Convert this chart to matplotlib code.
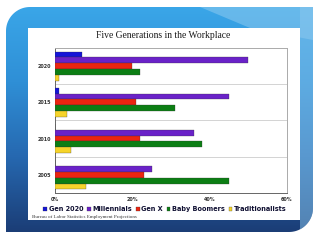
import matplotlib
matplotlib.use("Agg")
import matplotlib.pyplot as plt
import numpy as np
from matplotlib.patches import Polygon, Rectangle
from matplotlib.colors import LinearSegmentedColormap

years = ["2005", "2010", "2015", "2020"]
series = ["Gen 2020", "Millennials", "Gen X", "Baby Boomers", "Traditionalists"]
values = {
    "Gen 2020":        [0, 0, 1, 7],
    "Millennials":     [25, 36, 45, 50],
    "Gen X":           [23, 22, 21, 20],
    "Baby Boomers":    [45, 38, 31, 22],
    "Traditionalists": [8, 4, 3, 1],
}
colors = ["#1515d8", "#6a22c8", "#ec2410", "#0c7e14", "#f6d42a"]
xticks = [0, 20, 40, 60]
xticklabels = ["0%", "20%", "40%", "60%"]

fig = plt.figure(figsize=(3.2, 2.4), dpi=100)
fig.patch.set_facecolor("white")

# background frame (rounded top-left and bottom-right corners)
bg = fig.add_axes([0, 0, 1, 1])
bg.set_xlim(0, 320)
bg.set_ylim(240, 0)
bg.axis("off")
x0, x1, y0, y1, r = 6, 313, 7, 232, 24
t = np.linspace(0, np.pi / 2, 20)
pts = []
pts += list(zip(x0 + r - r * np.cos(t), y0 + r - r * np.sin(t)))
pts += [(x1, y0)]
pts += list(zip(x1 - r + r * np.cos(t), y1 - r + r * np.sin(t)))
pts += [(x0, y1)]
frame = Polygon(pts, closed=True, facecolor="none", edgecolor="none")
bg.add_patch(frame)
cmap = LinearSegmentedColormap.from_list("fr", ["#3aa6e8", "#2f8fd6", "#2668b0", "#1b3d76"])
grad = np.linspace(0, 1, 256).reshape(-1, 1)
im = bg.imshow(grad, extent=[x0, x1, y1, y0], cmap=cmap, aspect="auto", zorder=1)
im.set_clip_path(frame)
# lighter diagonal streak at top right
streak = Polygon([(200, 7), (313, 7), (313, 40), (250, 28)], closed=True,
                 facecolor="#9fd2f2", alpha=0.45, edgecolor="none", zorder=2)
bg.add_patch(streak)
streak.set_clip_path(frame)
rs = Rectangle((300, 7), 13, 225, facecolor="#8cc8ee", alpha=0.5, edgecolor="none", zorder=2)
bg.add_patch(rs)
rs.set_clip_path(frame)
bg.add_patch(Rectangle((28, 28), 272, 192, facecolor="white", edgecolor="none", zorder=3))
bg.text(163, 35, "Five Generations in the Workplace", ha="center", va="center",
        fontsize=6.9, family="Liberation Serif", color="#1a1a1a", zorder=4)
bg.text(32, 217, "Bureau of Labor Statistics Employment Projections", ha="left", va="center",
        fontsize=3.6, family="Liberation Serif", color="#333333", zorder=4)

ax = fig.add_axes([0.172, 0.196, 0.725, 0.604])
ax.set_zorder(5)
y = np.arange(len(years))
h = 0.16
for i, s in enumerate(series):
    off = (2 - i) * h
    ax.barh(y + off, values[s], height=h, color=colors[i], edgecolor="#333333",
            linewidth=0.2, label=s, zorder=3)
ax.set_xlim(0, 60)
ax.set_ylim(-0.5, 3.5)
ax.set_yticks(y)
ax.set_yticklabels(years, fontsize=3.5, fontweight="bold", color="#333333")
ax.set_xticks(xticks)
ax.set_xticklabels(xticklabels, fontsize=3.5, fontweight="bold", color="#333333")
ax.tick_params(length=0, pad=3)
for yy in [0.5, 1.5, 2.5]:
    ax.axhline(yy, color="#cccccc", linewidth=0.6, zorder=1)
for sp in ax.spines.values():
    sp.set_color("#aaaaaa")
    sp.set_linewidth(0.7)
ax.spines["left"].set_color("#666666")
ax.spines["bottom"].set_color("#666666")

leg = fig.legend(*ax.get_legend_handles_labels(), loc="center", bbox_to_anchor=(165/320, 1 - 209/240),
                 ncol=5, frameon=False, handlelength=0.55, handleheight=0.55,
                 handletextpad=0.25, columnspacing=0.6, borderaxespad=0,
                 prop={"weight": "bold", "family": "DejaVu Sans", "size": 4.7})
for t_ in leg.get_texts():
    t_.set_color("#111133")
leg.set_zorder(6)

fig.savefig("out.png", dpi=100)
